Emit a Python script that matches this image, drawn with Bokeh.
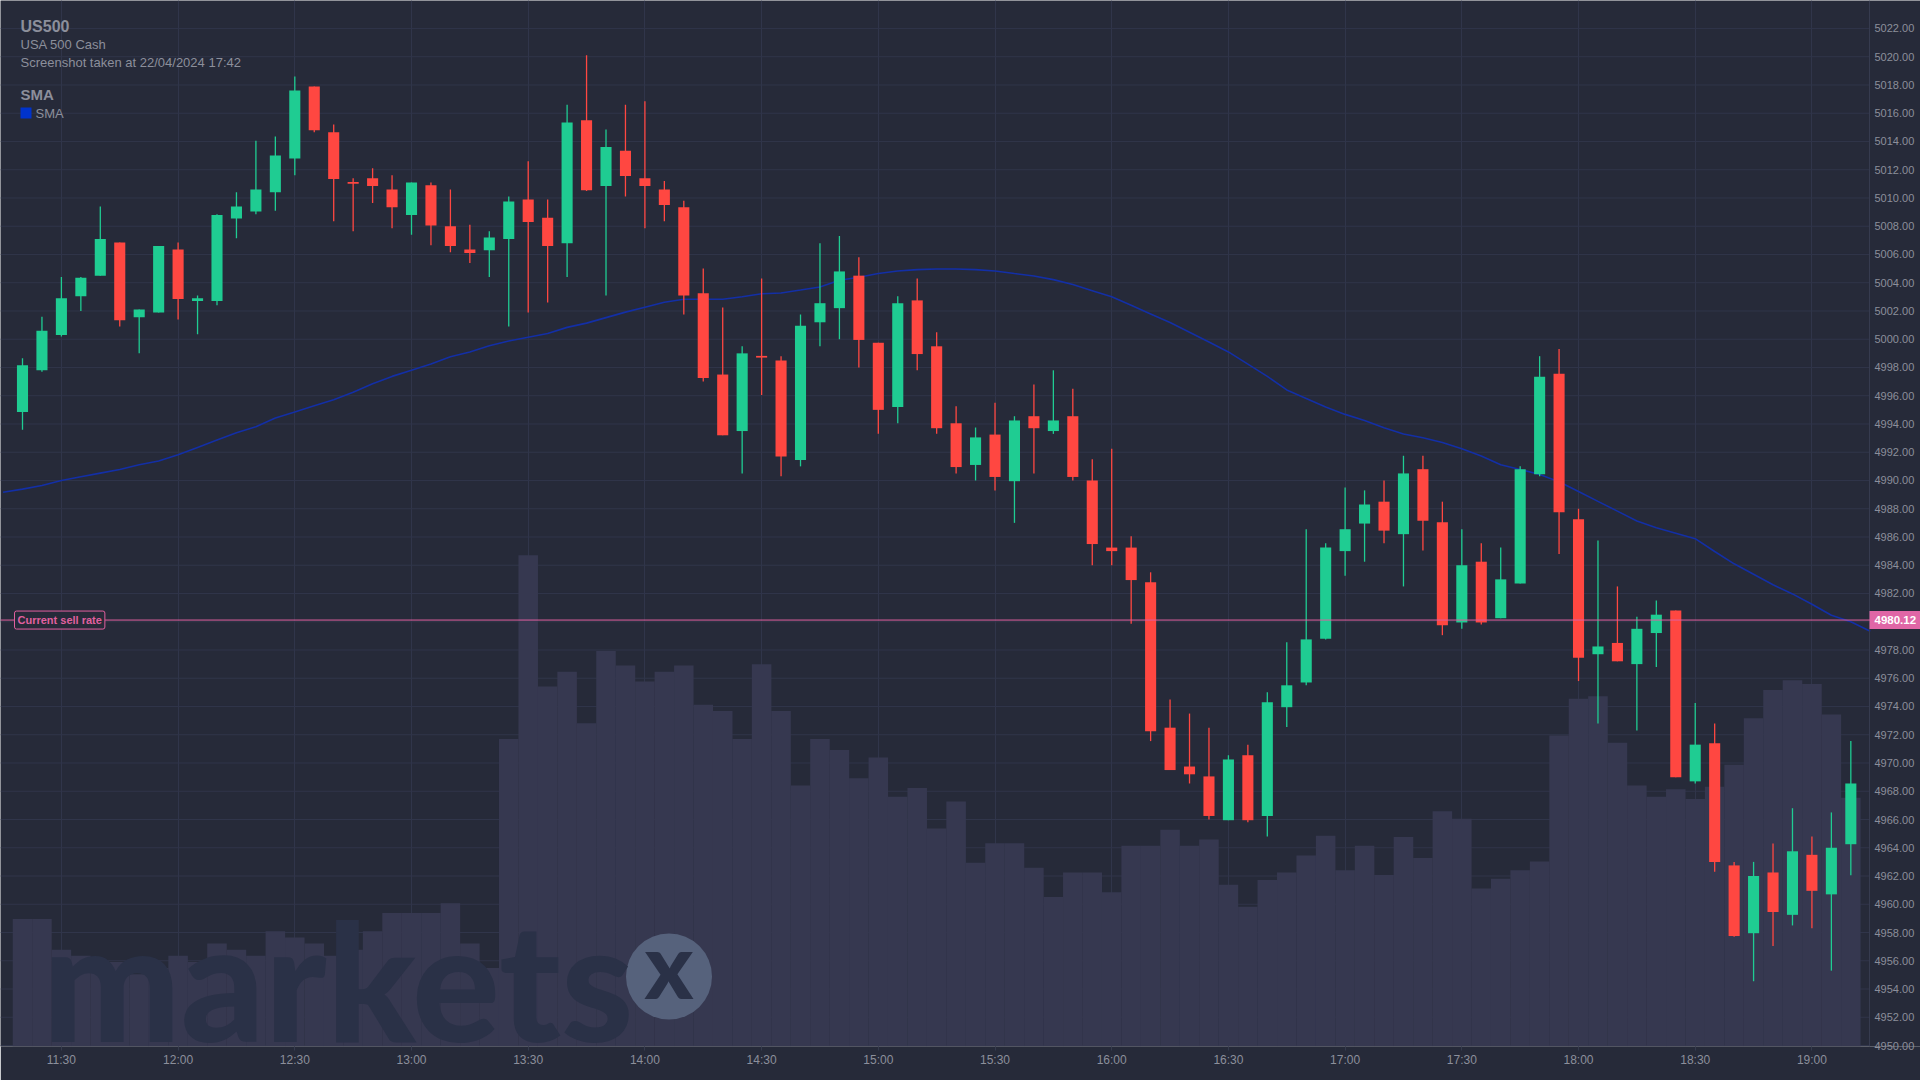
import pandas as pd
from bokeh.plotting import figure
from bokeh.models import (Range1d, FixedTicker, NumeralTickFormatter, DatetimeTickFormatter,
                          Span, Label, ColumnDataSource)
from bokeh.embed import file_html
from bokeh.resources import INLINE

# ---------------- data (5-minute candles, 22/04/2024) ----------------
times = pd.date_range("2024-04-22 11:20", periods=95, freq="5min")

open_ = [4994.85, 4997.8, 5000.3, 5003.05, 5004.5, 5006.85, 5001.55, 5001.9, 5006.35, 5002.7,
         5002.7, 5008.55, 5009.05, 5010.4, 5012.8, 5017.9, 5014.65, 5011.13, 5011.4, 5010.6,
         5008.8, 5010.9, 5008.0, 5006.35, 5006.3, 5007.1, 5009.9, 5008.6, 5006.8, 5015.5,
         5010.85, 5013.35, 5011.4, 5010.6, 5009.35, 5003.25, 4997.5, 4993.5, 4998.82, 4998.5,
         4991.45, 5001.2, 5002.2, 5004.5, 4999.75, 4995.2, 5002.75, 4999.5, 4994.05, 4991.1,
         4993.25, 4989.95, 4994.55, 4993.5, 4994.55, 4990.0, 4985.25, 4985.25, 4982.8, 4972.5,
         4969.75, 4969.05, 4965.95, 4970.55, 4966.25, 4973.95, 4975.7, 4978.8, 4985.0, 4986.95,
         4988.5, 4986.2, 4990.8, 4987.05, 4979.95, 4984.25, 4980.25, 4982.7, 4990.45, 4997.55,
         4987.25, 4977.7, 4978.5, 4977.0, 4979.2, 4980.8, 4968.7, 4971.4, 4962.75, 4957.95,
         4962.25, 4959.25, 4963.5, 4960.7, 4964.25]
high = [4998.65, 5001.6, 5004.4, 5004.4, 5009.4, 5006.85, 5002.1, 5006.6, 5006.85, 5003.1,
        5008.85, 5010.4, 5014.05, 5014.35, 5018.6, 5017.9, 5015.2, 5011.4, 5012.1, 5011.6,
        5011.1, 5011.1, 5010.6, 5008.1, 5007.65, 5010.1, 5012.6, 5009.9, 5016.6, 5020.1,
        5014.85, 5016.6, 5016.85, 5011.2, 5009.8, 5005.0, 5002.25, 4999.5, 5004.3, 4998.8,
        5001.75, 5006.8, 5007.3, 5005.8, 4999.75, 5003.05, 5004.3, 5000.5, 4995.25, 4993.75,
        4995.5, 4994.55, 4996.8, 4997.8, 4996.5, 4991.5, 4992.25, 4986.05, 4983.5, 4974.5,
        4973.5, 4972.5, 4970.55, 4971.3, 4975.0, 4978.55, 4986.55, 4985.55, 4989.5, 4989.3,
        4990.0, 4991.75, 4991.75, 4988.5, 4986.55, 4985.55, 4985.25, 4991.0, 4998.8, 4999.3,
        4988.0, 4985.75, 4982.5, 4980.35, 4981.5, 4980.8, 4974.25, 4972.8, 4963.0, 4963.0,
        4964.3, 4966.8, 4964.8, 4966.5, 4971.55]
low = [4993.6, 4997.7, 5000.2, 5002.0, 5004.5, 5000.9, 4999.0, 5001.9, 5001.4, 5000.35,
       5002.4, 5007.15, 5008.85, 5009.1, 5011.6, 5014.65, 5008.35, 5007.65, 5009.65, 5007.85,
       5007.4, 5006.65, 5006.15, 5005.4, 5004.4, 5000.9, 5001.9, 5002.6, 5004.4, 5010.5,
       5003.1, 5010.1, 5007.85, 5008.35, 5001.75, 4997.0, 4993.2, 4990.5, 4996.05, 4990.3,
       4991.0, 4999.5, 5000.0, 4998.0, 4993.3, 4994.05, 4997.8, 4993.3, 4990.5, 4990.0,
       4989.3, 4987.0, 4990.5, 4993.3, 4990.0, 4984.0, 4984.0, 4979.85, 4971.55, 4969.5,
       4968.55, 4966.0, 4965.95, 4965.8, 4964.8, 4972.55, 4975.5, 4978.75, 4983.25, 4984.25,
       4985.55, 4982.5, 4985.05, 4979.05, 4979.5, 4979.8, 4980.25, 4982.7, 4990.3, 4984.8,
       4975.8, 4972.8, 4977.2, 4972.3, 4976.8, 4969.0, 4968.55, 4962.3, 4957.7, 4954.55,
       4957.05, 4958.5, 4958.3, 4955.3, 4962.05]
close = [4998.15, 5000.6, 5002.9, 5004.35, 5007.1, 5001.35, 5002.1, 5006.6, 5002.85, 5002.9,
         5008.8, 5009.4, 5010.6, 5013.0, 5017.6, 5014.8, 5011.35, 5011.0, 5010.85, 5009.35,
         5011.1, 5008.05, 5006.6, 5006.1, 5007.2, 5009.75, 5008.3, 5006.6, 5015.35, 5010.55,
         5013.6, 5011.55, 5010.85, 5009.5, 5003.1, 4997.25, 4993.2, 4999.0, 4998.7, 4991.7,
         5000.95, 5002.55, 5004.8, 4999.95, 4995.0, 5002.55, 4998.95, 4993.7, 4990.95, 4993.05,
         4990.25, 4994.25, 4993.7, 4994.25, 4990.25, 4985.5, 4985.0, 4982.95, 4972.25, 4969.5,
         4969.2, 4966.25, 4970.25, 4965.95, 4974.3, 4975.5, 4978.75, 4985.25, 4986.55, 4988.3,
         4986.45, 4990.5, 4987.15, 4979.75, 4984.0, 4979.95, 4983.0, 4990.8, 4997.35, 4987.75,
         4977.45, 4978.25, 4977.2, 4979.5, 4980.5, 4969.0, 4971.3, 4963.0, 4957.75, 4962.0,
         4959.45, 4963.75, 4960.95, 4964.0, 4968.55]
volume = [104, 104, 79, 74, 64, 69, 59, 64, 74, 69,
          84, 79, 74, 94, 89, 84, 74, 79, 94, 109,
          109, 109, 117, 84, 64, 251, 401, 294, 306, 264,
          323, 311, 298, 306, 311, 279, 274, 251, 312, 274,
          213, 251, 242, 219, 236, 204, 211, 178, 200, 150,
          166, 166, 146, 122, 142, 142, 126, 164, 164, 177,
          164, 169, 132, 114, 136, 142, 156, 172, 144, 164,
          140, 171, 154, 192, 186, 129, 137, 144, 151, 254,
          284, 286, 248, 213, 204, 210, 202, 212, 230, 268,
          291, 299, 296, 271, 203]

sma_times = pd.date_range("2024-04-22 11:15", periods=97, freq="5min")
sma = [4989.17, 4989.39, 4989.65, 4990.0, 4990.26, 4990.52, 4990.78, 4991.12, 4991.38, 4991.82,
       4992.34, 4992.86, 4993.38, 4993.81, 4994.42, 4994.85, 4995.29, 4995.72, 4996.24, 4996.85,
       4997.37, 4997.8, 4998.24, 4998.76, 4999.1, 4999.54, 4999.88, 5000.14, 5000.4, 5000.84,
       5001.14, 5001.53, 5001.92, 5002.27, 5002.62, 5002.83, 5002.83, 5002.83, 5003.01, 5003.22,
       5003.27, 5003.48, 5003.7, 5004.18, 5004.39, 5004.65, 5004.83, 5004.93, 5004.97, 5004.97,
       5004.93, 5004.83, 5004.65, 5004.48, 5004.22, 5003.87, 5003.44, 5003.01, 5002.4, 5001.79,
       5001.18, 5000.49, 4999.8, 4999.1, 4998.24, 4997.37, 4996.41, 4995.81, 4995.2, 4994.68,
       4994.25, 4993.73, 4993.29, 4993.03, 4992.69, 4992.25, 4991.73, 4991.12, 4990.78, 4990.43,
       4989.91, 4989.22, 4988.52, 4987.83, 4987.13, 4986.66, 4986.27, 4985.88, 4984.97, 4984.1,
       4983.36, 4982.62, 4981.97, 4981.24, 4980.46, 4980.0, 4979.33]

sell_rate = 4980.12
y_ticks = list(range(4950, 5024, 2))
x_tick_times = pd.date_range("2024-04-22 11:30", "2024-04-22 19:00", freq="30min")

title = "US500"
subtitle = "USA 500 Cash"
stamp = "Screenshot taken at 22/04/2024 17:42"

# ---------------- styling ----------------
BG = "#262a39"
GRID = "#30354a"
TXT = "#8c8f9b"
UP = "#1fcc92"
DOWN = "#ff4741"
VOL = "#363850"
PINK = "#e0609f"
SMA_C = "#132fa6"
FONT = "Liberation Sans"

def ms(t):
    return t.value / 1e6

STEP = 300000.0  # 5 minutes in ms
t0 = ms(times[0])
FW, FH = 1869, 1046          # price area (left of the price scale)
xs = t0 - 1.131 * STEP
xe = t0 + 94.96 * STEP       # x value at the price-scale line
xe_full = xs + (xe - xs) * 1920 / FW   # plot frame spans the whole width
y_top, y_bot = 5023.98, 4949.93

def X(px):
    return xs + px / FW * (xe - xs)

def Y(py):
    return y_top - py / FH * (y_top - y_bot)

t_ms = [ms(t) for t in times]
colors = [UP if c >= o else DOWN for o, c in zip(open_, close)]
src = ColumnDataSource(dict(
    t=t_ms, o=open_, h=high, l=low, c=close, vol=volume,
    top=[max(o, c) for o, c in zip(open_, close)],
    bot=[min(o, c) for o, c in zip(open_, close)],
    color=colors,
))

p = figure(width=1920, height=1080, output_backend="svg", toolbar_location=None,
           x_axis_type="datetime", y_axis_location="right",
           x_range=Range1d(xs, xe_full), y_range=Range1d(y_bot, y_top),
           min_border_left=0, min_border_top=0, min_border_right=0, min_border_bottom=34,
           background_fill_color=BG, border_fill_color=BG, outline_line_color=None)

p.extra_y_ranges = {"vol": Range1d(0, 854)}

# price scale (labels drawn back over the right strip of the frame)
yax = p.yaxis[0]
yax.ticker = FixedTicker(ticks=y_ticks)
yax.formatter = NumeralTickFormatter(format="0.00")
yax.major_label_text_font = FONT
yax.major_label_text_font_size = "11px"
yax.major_label_text_color = TXT
yax.major_tick_line_color = None
yax.major_tick_out = 0
yax.major_tick_in = 0
yax.minor_tick_line_color = None
yax.minor_tick_out = 0
yax.minor_tick_in = 0
yax.axis_line_color = None
yax.major_label_standoff = -46

xax = p.xaxis[0]
xax.ticker = FixedTicker(ticks=[ms(t) for t in x_tick_times])
xax.formatter = DatetimeTickFormatter(minsec="%H:%M", minutes="%H:%M", hourmin="%H:%M",
                                      hours="%H:%M", days="%H:%M", context=None)
xax.major_label_text_font = "Liberation Sans Narrow, Liberation Sans"
xax.major_label_text_font_size = "12px"
xax.major_label_text_color = TXT
xax.major_tick_line_color = "#353a4d"
xax.major_tick_out = 4
xax.major_tick_in = 0
xax.minor_tick_line_color = None
xax.minor_tick_out = 0
xax.axis_line_color = None
xax.major_label_standoff = 2

p.xgrid.ticker = FixedTicker(ticks=[ms(t) for t in x_tick_times])
p.xgrid.grid_line_color = GRID
p.ygrid.visible = False
# horizontal grid lines stop at the price-scale line
p.segment(x0=[xs] * len(y_ticks), x1=[xe] * len(y_ticks), y0=y_ticks, y1=y_ticks,
          line_color=GRID, line_width=1)
# price-scale separator line
p.add_layout(Span(location=xe, dimension="height", line_color="#363b4f", line_width=1))

# volume
p.vbar(x="t", width=STEP * 1.004, top="vol", bottom=0, source=src, y_range_name="vol",
       fill_color=VOL, line_color=None)

# watermark
p.add_layout(Label(x=X(42), y=Y(978), text="markets", text_font="Lato Black, Lato",
                   text_font_style="bold", text_font_size="164px", text_color="#2a3147",
                   text_baseline="alphabetic", text_align="left"))
p.scatter(x=[X(668.5)], y=[Y(976)], size=86, marker="circle",
          fill_color="#56627c", line_color=None)
p.add_layout(Label(x=X(668.5), y=Y(963), text="x", text_font="Lato Black, Lato",
                   text_font_style="bold", text_font_size="92px", text_color="#2a3147",
                   text_baseline="alphabetic", text_align="center"))

# SMA
p.line(x=[ms(t) for t in sma_times], y=sma, line_color=SMA_C, line_width=1.6)

# current sell rate
p.add_layout(Span(location=sell_rate, dimension="width", line_color=PINK, line_width=1))
p.add_layout(Label(x=X(14), y=sell_rate, text="Current sell rate", text_font=FONT,
                   text_font_style="bold", text_font_size="11px", text_color=PINK,
                   text_baseline="middle", text_align="left",
                   background_fill_color=BG, border_line_color=PINK, border_line_width=1,
                   padding=3, border_radius=2))
p.add_layout(Label(x=xe, y=sell_rate, text=f"{sell_rate:.2f}", text_font=FONT,
                   text_font_style="bold", text_font_size="11.5px", text_color="white",
                   text_baseline="middle", text_align="left", level="overlay",
                   background_fill_color="#e066a6", padding=5))

# candles
p.segment(x0="t", y0="l", x1="t", y1="h", source=src, line_color="color", line_width=1.3)
p.vbar(x="t", width=STEP * 0.57, top="top", bottom="bot", source=src,
       fill_color="color", line_color=None)

# header texts
p.add_layout(Label(x=X(20), y=Y(26), text=title, text_font=FONT, text_font_style="bold",
                   text_font_size="16px", text_color=TXT, text_baseline="middle"))
p.add_layout(Label(x=X(20), y=Y(44), text=subtitle, text_font=FONT,
                   text_font_size="13px", text_color=TXT, text_baseline="middle"))
p.add_layout(Label(x=X(20), y=Y(61.5), text=stamp, text_font=FONT,
                   text_font_size="13px", text_color=TXT, text_baseline="middle"))
p.add_layout(Label(x=X(20), y=Y(94), text="SMA", text_font=FONT, text_font_style="bold",
                   text_font_size="15px", text_color=TXT, text_baseline="middle"))
p.scatter(x=[X(25.5)], y=[Y(112.5)], marker="square", size=11,
          fill_color="#0033cc", line_color=None)
p.add_layout(Label(x=X(35), y=Y(113), text="SMA", text_font=FONT,
                   text_font_size="13px", text_color=TXT, text_baseline="middle"))

open("out.html", "w").write(file_html(p, INLINE))
